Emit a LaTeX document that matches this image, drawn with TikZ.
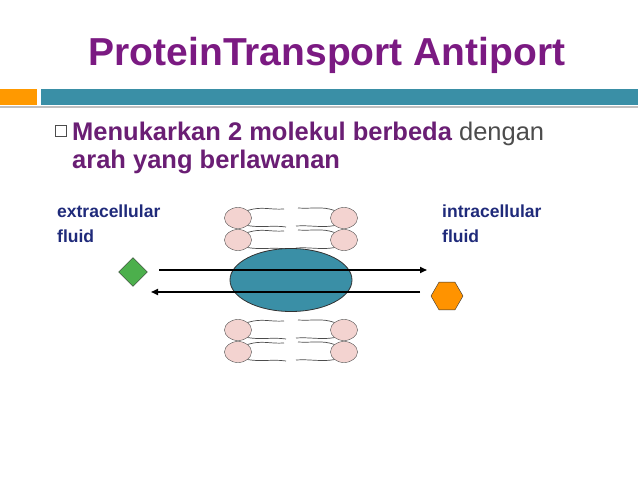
\documentclass[tikz,border=0pt]{standalone}
\usepackage{fontspec}
\setmainfont{Liberation Sans}
\usetikzlibrary{arrows.meta,shapes.geometric}
\tikzset{>=Stealth}
\definecolor{titlepurp}{HTML}{7B1A82}
\definecolor{bodypurp}{HTML}{6A1E74}
\definecolor{teal}{HTML}{3A8FA6}
\definecolor{headpink}{HTML}{F3D3D0}
\definecolor{labelblue}{HTML}{1F2A7A}
\tikzset{
  head/.style={draw=black!70,fill=headpink,ellipse,minimum width=27pt,minimum height=21pt,inner sep=0pt},
  tail/.style={black!70,line width=0.7pt},
  lbl/.style={labelblue,font=\bfseries\fontsize{17.5}{25}\selectfont,align=left,anchor=north west,inner sep=0pt},
  flow/.style={->,line width=1.6pt,>={Triangle[length=7pt,width=6pt]}}
}
\begin{document}
\begin{tikzpicture}[x=1pt,y=-1pt]
\useasboundingbox (0,0) rectangle (638,478);

% Titel
\node[titlepurp,font=\bfseries\fontsize{39}{44}\selectfont] (title) at (327,55) {ProteinTransport Antiport};
\fill[orange!80!yellow] (0,89) rectangle (37,105);
\fill[teal] (41,89) rectangle (638,105);
\fill[black!25] (0,106) rectangle (638,108);

% Poin
\node[draw=black!70,minimum size=11pt,inner sep=0pt,line width=0.5pt] (bullet) at (61,131) {};
\node[anchor=north west,inner sep=0pt,align=left,font=\fontsize{25.5}{28}\selectfont] (point) at (72,122)
  {\textcolor{bodypurp}{\bfseries Menukarkan 2 molekul berbeda} \textcolor{black!70}{dengan}\\
   \textcolor{bodypurp}{\bfseries arah yang berlawanan}};

% Label
\node[lbl] (extra) at (57,205) {extracellular\\fluid};
\node[lbl] (intra) at (442,205) {intracellular\\fluid};

% Membran
\foreach \y in {218,240,330,352} {
  \node[head] (hl\y) at (238,\y) {};
  \node[head] (hr\y) at (344,\y) {};
  \draw[tail] (hl\y.north east) .. controls (262,\y-12) and (270,\y-8) .. (284,\y-9);
  \draw[tail] (hl\y.south east) .. controls (262,\y+10) and (272,\y+7) .. (286,\y+9);
  \draw[tail] (hr\y.north west) .. controls (322,\y-12) and (312,\y-9) .. (298,\y-10);
  \draw[tail] (hr\y.south west) .. controls (322,\y+10) and (310,\y+7) .. (296,\y+8);
}

% Protein
\node[draw=black!80,fill=teal,ellipse,minimum width=122pt,minimum height=63pt,line width=0.8pt] (carrier) at (291,280) {};

% Molekul
\node[draw=black!80,fill=green!55!black!70,diamond,minimum size=29pt,inner sep=0pt] (green) at (133,272) {};
\node[draw=black!80,fill=orange!85!yellow,regular polygon,regular polygon sides=6,minimum size=32pt,inner sep=0pt] (hexa) at (447,296) {};

% Panah
\coordinate (inA) at (159,270);
\coordinate (inB) at (427,270);
\coordinate (outA) at (420,292);
\coordinate (outB) at (151,292);
\draw[flow] (inA) -- (inB);
\draw[flow] (outA) -- (outB);
\end{tikzpicture}
\end{document}
